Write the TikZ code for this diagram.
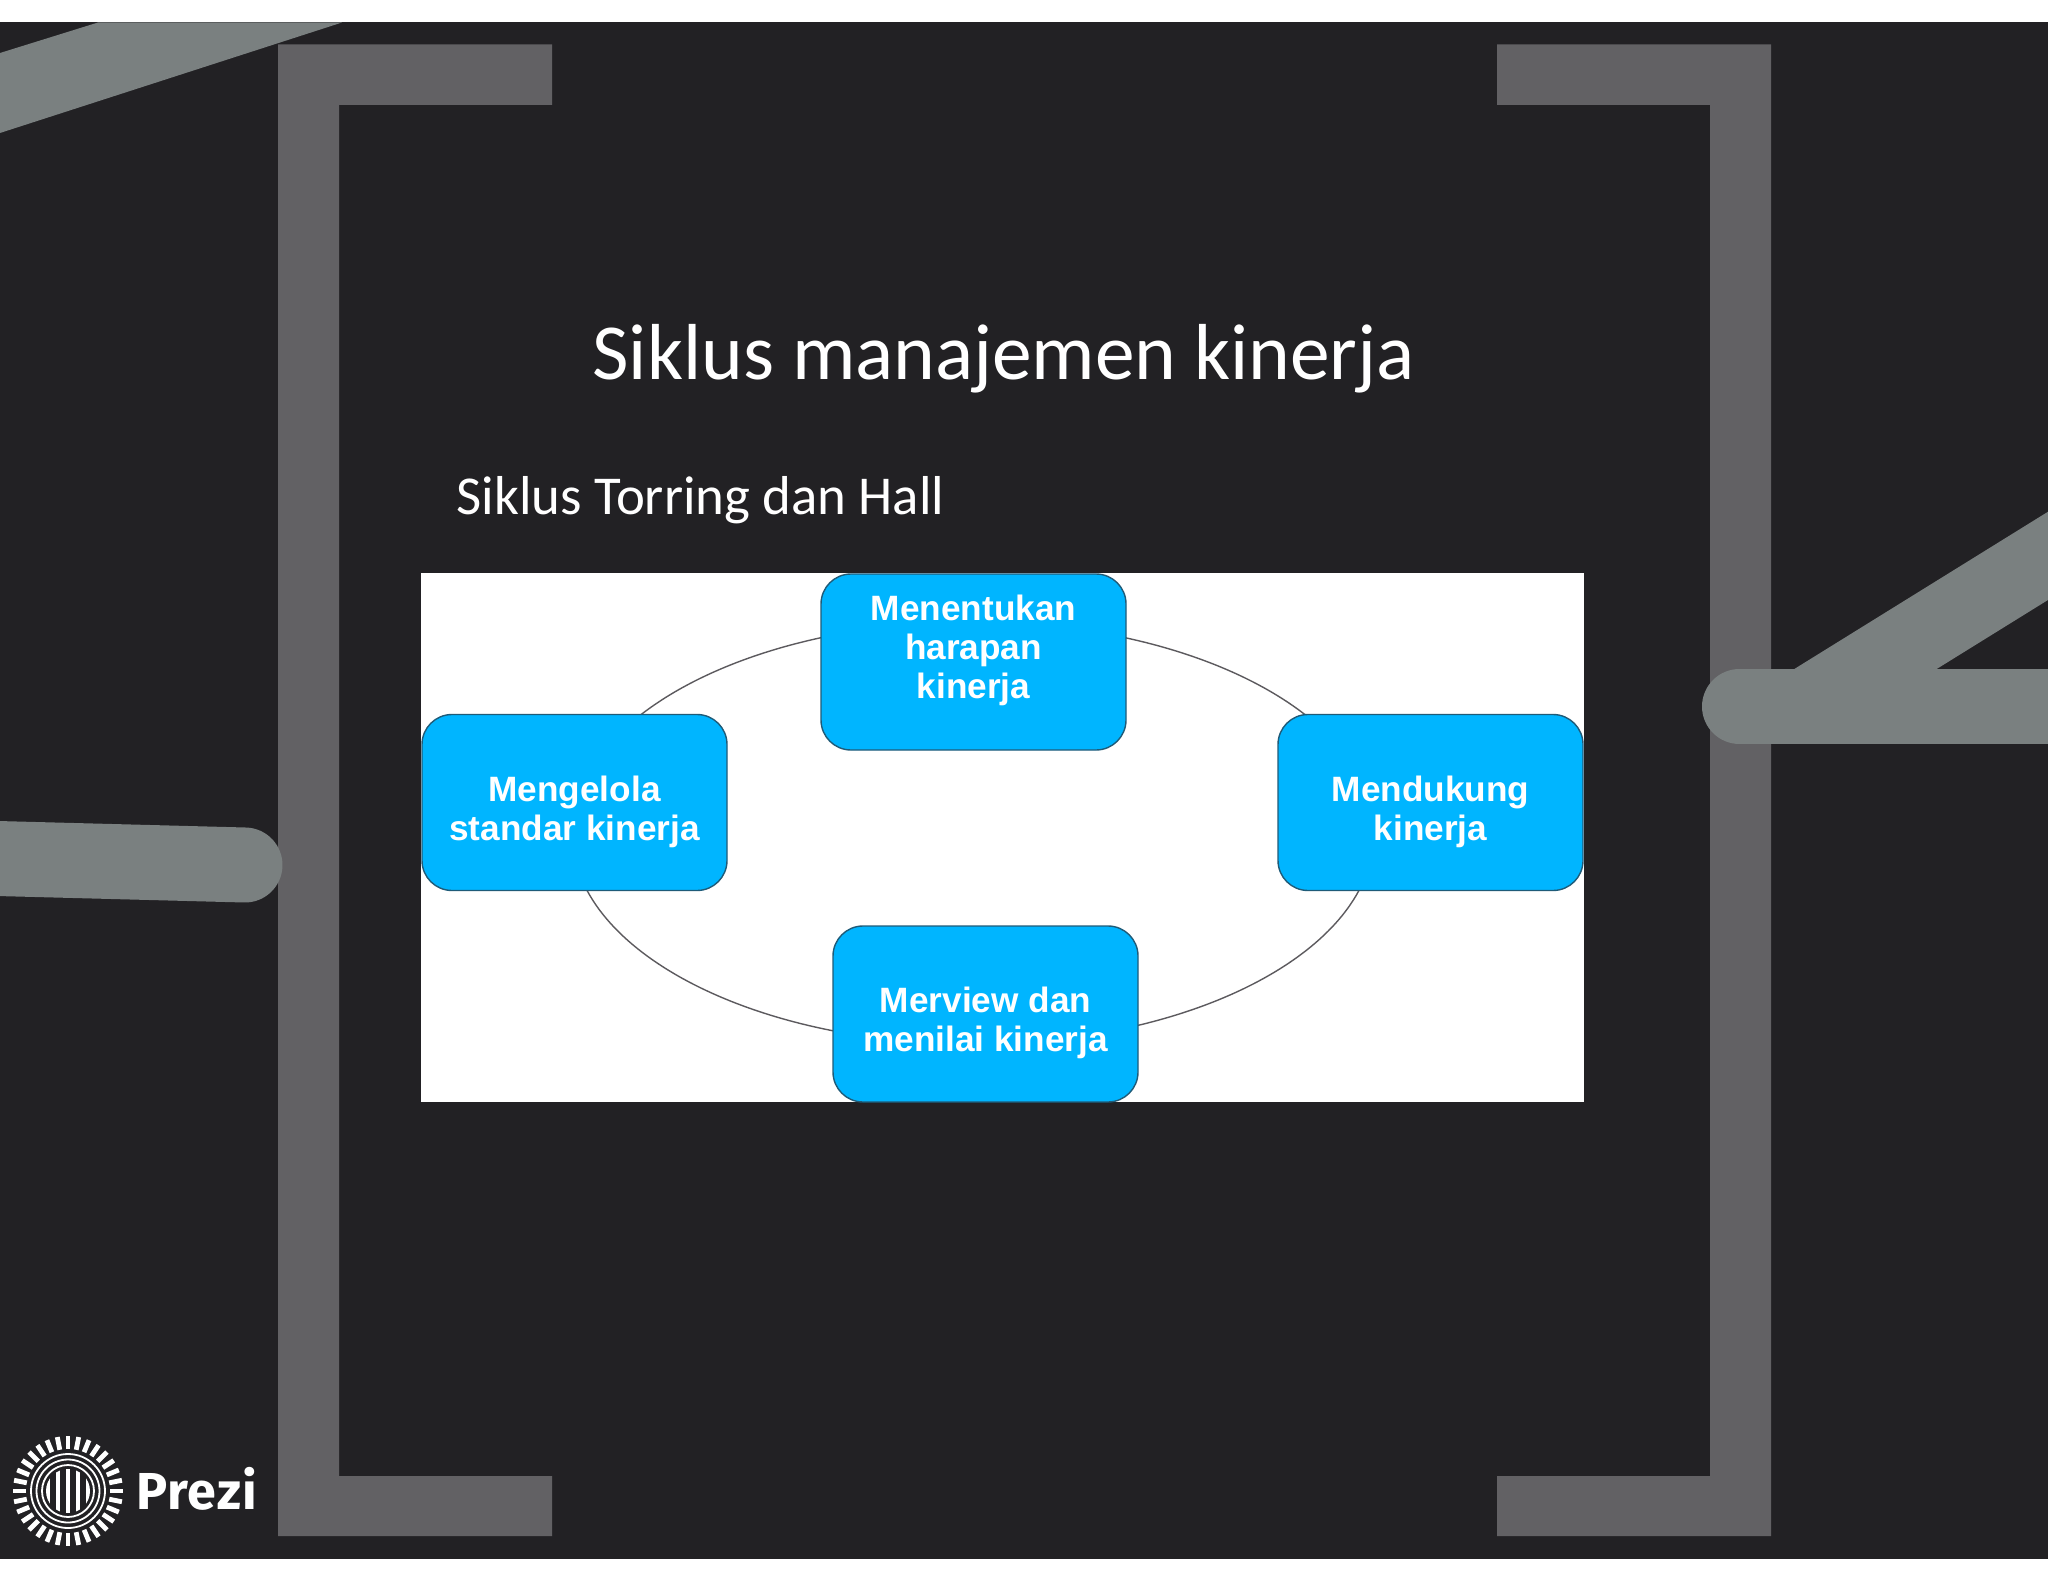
\documentclass[tikz,border=0pt]{standalone}
\usetikzlibrary{calc}
\usepackage{fontspec}
\setmainfont{Carlito}
\newfontfamily\boxfont{Liberation Sans}
\newfontfamily\prezifont[LetterSpace=2]{Fira Sans}
\definecolor{bgdark}{HTML}{222124}
\definecolor{bracketgrey}{HTML}{626164}
\definecolor{strokegrey}{HTML}{7A8080}
\definecolor{boxblue}{HTML}{00B5FF}
\definecolor{boxedge}{HTML}{1F5B78}
\definecolor{ringgrey}{HTML}{5C5A5E}
\newcommand{\boxlines}[2]{\raisebox{\dimexpr#1-4.25pt\relax}[0pt][0pt]{\begin{tabular}{@{}c@{}}#2\end{tabular}}}
\tikzset{
  x=0.5pt,y=-0.5pt,
  cyclebox/.style={draw=boxedge,line width=0.7pt,fill=boxblue,rounded corners=15pt,
    minimum width=152.5pt,minimum height=88pt,inner sep=0pt,text=white,
    font=\boxfont\bfseries\fontsize{17.6}{19.5}\selectfont},
  bracketshape/.style={fill=bracketgrey,draw=none},
  greystroke/.style={draw=strokegrey,line width=37.5pt},
  heading/.style={text=white,anchor=base west,inner sep=0pt},
}
\begin{document}
\begin{tikzpicture}
\useasboundingbox (0,0) rectangle (2048,1582);
\fill[white] (0,0) rectangle (2048,1582);
\fill[bgdark] (0,22.5) rectangle (2048,1558.5);
% brackets
\fill[bracketshape] (552,44.5) -- (278,44.5) -- (278,1536) -- (552,1536) -- (552,1476) -- (339,1476) -- (339,105) -- (552,105) -- cycle;
\fill[bracketshape] (1497,44.5) -- (1771,44.5) -- (1771,1536) -- (1497,1536) -- (1497,1476) -- (1710,1476) -- (1710,105) -- (1497,105) -- cycle;
% grey strokes
\fill[strokegrey] (98,22.5) -- (342,22.5) -- (0,133) -- (0,53) -- cycle;
\draw[greystroke,line cap=round] (-60,857) -- (245,865);
\draw[greystroke,line cap=round] (1739.5,706.5) -- (2120,706.5);
\draw[greystroke,line cap=round] (1805,706.5) -- (2130,505);
% headings
\node[heading,font=\fontsize{39.7}{44}\selectfont] (title) at (592,380) {Siklus manajemen kinerja};
\node[heading,font=\fontsize{27.4}{30}\selectfont] (subtitle) at (456,515) {Siklus Torring dan Hall};
% picture panel
\fill[white] (421,573) rectangle (1584,1102);
\draw[ringgrey,line width=0.7pt] (973,833) ellipse [x radius=401,y radius=211];
\node[cyclebox] (harapan) at (973.5,662) {\boxlines{5.2pt}{Menentukan\\harapan\\kinerja}};
\node[cyclebox] (standar) at (574.5,802.5) {\boxlines{-5.4pt}{Mengelola\\standar kinerja}};
\node[cyclebox] (dukung) at (1430.5,802.5) {\boxlines{-5.4pt}{Mendukung\\kinerja}};
\node[cyclebox] (nilai) at (985.5,1014) {\boxlines{-5.2pt}{Merview dan\\menilai kinerja}};
% logo
\foreach \a in {0,11.25,...,349}
  \draw[white,line width=2.4pt] ($(68,1491)+(\a:42)$) -- ($(68,1491)+(\a:55)$);
\foreach \r in {37,31.5,26}
  \draw[white,line width=0.9pt] (68,1491) circle [radius=\r];
\begin{scope}
  \clip (68,1491) circle [radius=22];
  \foreach \d in {-20,-10,0,10,20}
    \fill[white] ({68+\d-2},1465) rectangle ({68+\d+2},1517);
\end{scope}
\node[text=white,anchor=base west,inner sep=0pt,font=\prezifont\bfseries\fontsize{26}{30}\selectfont] (prezi) at (136,1509) {Prezi};
\end{tikzpicture}
\end{document}
